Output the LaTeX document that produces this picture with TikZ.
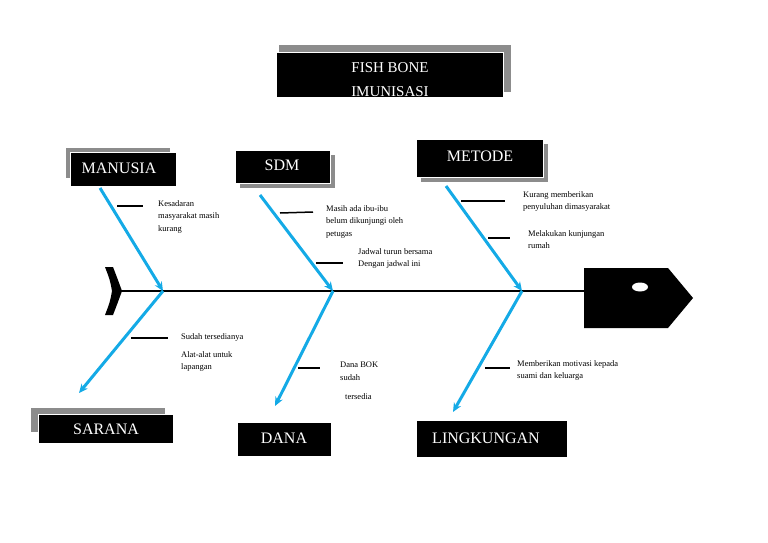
\documentclass[tikz,border=0pt]{standalone}
\usepackage{fontspec}
\setmainfont{Liberation Serif}
\usetikzlibrary{arrows.meta}
\begin{document}
\begin{tikzpicture}[x=1pt,y=-1pt,
  bx/.style={fill=black,draw=white,line width=1pt},
  sh/.style={fill=gray!90},
  lab/.style={text=white,font=\fontsize{16}{18}\selectfont},
  bone/.style={draw={rgb,255:red,20;green,170;blue,230},line width=3pt,-{Stealth[length=9pt,width=8pt]}},
  tick/.style={draw=black,line width=1.5pt},
  note/.style={anchor=north west,align=left,inner sep=0pt,font=\fontsize{8.5}{12.5}\selectfont}]
\useasboundingbox (0,0) rectangle (768,543);
% title
\fill[sh] (279,45) rectangle (511,92);
\draw[bx] (276,53) rectangle (503,97);
\begin{scope}
\clip (276,53) rectangle (503,96);
\node[lab,font=\fontsize{15}{17}\selectfont] (title) at (390,68) {FISH BONE};
\node[lab,font=\fontsize{15}{17}\selectfont] (title2) at (390,92) {IMUNISASI};
\end{scope}
% boxes
\fill[sh] (66,148) rectangle (170,178);
\draw[bx] (70,152) rectangle (176,186); \node[lab] (manusia) at (119,168) {MANUSIA};
\fill[sh] (240,155) rectangle (335,188);
\draw[bx] (235,150) rectangle (330,183); \node[lab] (sdm) at (282,165) {SDM};
\fill[sh] (421,144) rectangle (548,182);
\draw[bx] (416,139) rectangle (543,177); \node[lab] (metode) at (480,156) {METODE};
\fill[sh] (31,408) rectangle (165,432);
\draw[bx] (38,414) rectangle (173,443); \node[lab] (sarana) at (106,429) {SARANA};
\draw[bx] (237,422) rectangle (331,456); \node[lab] (dana) at (284,438) {DANA};
\draw[bx] (416,420) rectangle (567,457); \node[lab] (ling) at (486,438) {LINGKUNGAN};
% spine
\coordinate (tailc) at (121,291);
\coordinate (headc) at (584,291);
\draw[line width=2.5pt] (tailc) -- (headc);
\fill (105,267) -- (113,267) .. controls (118,280) .. (122,291) .. controls (118,302) .. (113,315) -- (105,315) .. controls (110,302) .. (112,291) .. controls (110,280) .. (105,267) -- cycle;
\fill (584,268) -- (668,268) -- (693,298) -- (668,328) -- (584,328) -- cycle;
\fill[white] (640,287) ellipse (8 and 4.5);
% joints
\coordinate (j1) at (163,291); \coordinate (j2) at (333,291); \coordinate (j3) at (522,291);
\coordinate (m1) at (100,188); \coordinate (m2) at (260,195); \coordinate (m3) at (446,186);
\coordinate (b1) at (79,393); \coordinate (b2) at (275,406); \coordinate (b3) at (453,412);
\draw[bone] (m1) -- (j1); \draw[bone] (m2) -- (j2); \draw[bone] (m3) -- (j3);
\draw[bone] (j1) -- (b1); \draw[bone] (j2) -- (b2); \draw[bone] (j3) -- (b3);
% ticks
\draw[tick] (117,206) -- (143,206);
\draw[tick] (280,213) -- (313,212);
\draw[tick] (316,263) -- (343,263);
\draw[tick] (461,201) -- (505,201);
\draw[tick] (488,238) -- (510,238);
\draw[tick] (131,338) -- (168,338);
\draw[tick] (298,368) -- (320,368);
\draw[tick] (485,368) -- (510,368);
% notes
\node[note] (n1) at (158,200) {Kesadaran\\masyarakat masih\\kurang};
\node[note] (n2) at (326,205) {Masih ada ibu-ibu\\belum dikunjungi oleh\\petugas};
\node[note] (n3) at (358,248) {Jadwal turun bersama\\Dengan jadwal ini};
\node[note] (n4) at (523,191) {Kurang memberikan\\penyuluhan dimasyarakat};
\node[note] (n5) at (528,230) {Melakukan kunjungan\\rumah};
\node[note] (n6) at (181,333) {Sudah tersedianya};
\node[note] (n7) at (181,351) {Alat-alat untuk\\lapangan};
\node[note] (n8) at (340,362) {Dana BOK\\sudah};
\node[note] (n9) at (345,393) {tersedia};
\node[note] (n10) at (517,360) {Memberikan motivasi kepada\\suami dan keluarga};
\end{tikzpicture}
\end{document}
